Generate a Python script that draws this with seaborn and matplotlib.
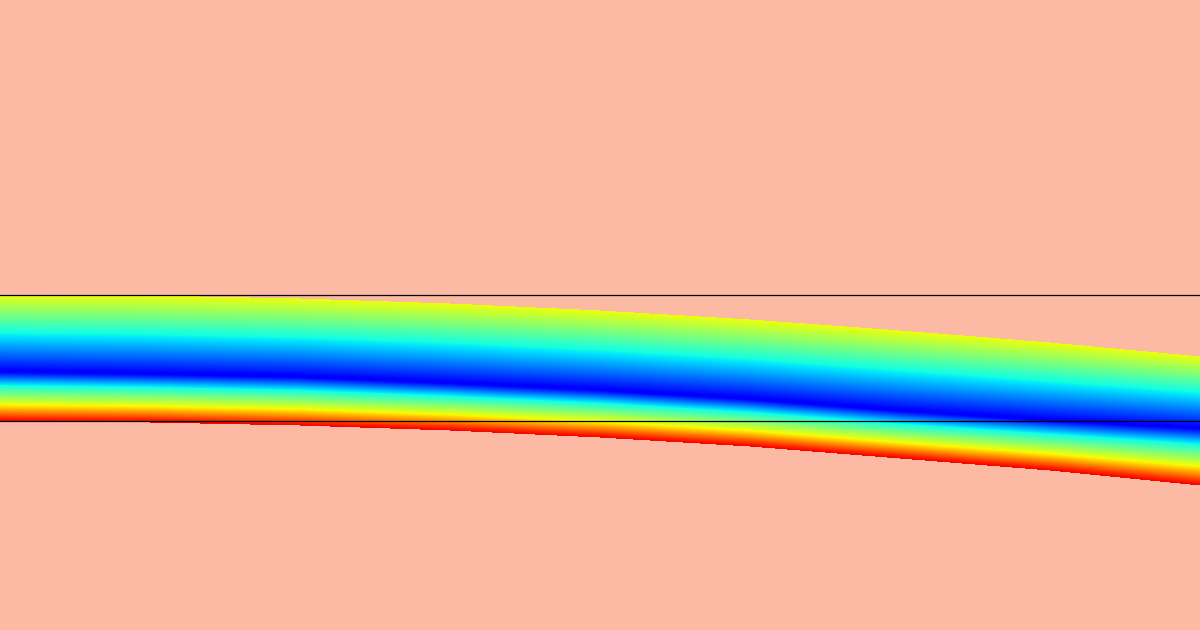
"""
Deformed beam field plot: jet-coloured band over the undeformed outline
"""

import numpy as np
import matplotlib
matplotlib.use('Agg')  # Non-interactive backend
import matplotlib.pyplot as plt
import seaborn as sns

# Sample columns along the beam (pixel units, y measured from the top)
x_cols = [0, 150, 300, 450, 600, 750, 900, 1050, 1200]
top_edge = [295, 296, 299, 304, 311, 320, 331, 343, 357]
bottom_edge = [421, 422, 425, 430, 437, 446, 458, 470, 485]
blue_depth = [0.61, 0.62, 0.62, 0.63, 0.63, 0.63, 0.63, 0.61, 0.56]

# Field value through the depth (anchors relative to the blue minimum)
anchor_above = [0.0, 0.48, 1.0]          # fraction of blue depth
anchor_below = [0.29, 0.66, 0.95, 1.0]   # fraction of the part below blue
anchor_values = [0.63, 0.375, 0.11, 0.375, 0.63, 0.87, 0.90]

# Undeformed outline
outline_top = 295
outline_bottom = 421

bg_color = '#fcbaa4'

sns.set_theme(style='white')

n_rows = len(anchor_values)
n_cols = len(x_cols)
X = np.zeros((n_rows, n_cols))
Y = np.zeros((n_rows, n_cols))
V = np.zeros((n_rows, n_cols))
for j in range(n_cols):
    b = blue_depth[j]
    depths = [a * b for a in anchor_above] + [b + a * (1 - b) for a in anchor_below]
    for i, s in enumerate(depths):
        X[i, j] = x_cols[j]
        Y[i, j] = top_edge[j] + s * (bottom_edge[j] - top_edge[j])
        V[i, j] = anchor_values[i]

fig = plt.figure(figsize=(12, 6.3), dpi=100, facecolor=bg_color)
ax = fig.add_axes([0, 0, 1, 1])
ax.set_facecolor(bg_color)

ax.contourf(X, Y, V, levels=np.linspace(0, 1, 257), cmap='jet',
            vmin=0, vmax=1, antialiased=False)

ax.axhline(outline_top, color='black', lw=0.9)
ax.axhline(outline_bottom, color='black', lw=0.9)

ax.set_xlim(0, 1200)
ax.set_ylim(630, 0)
ax.set_axis_off()

plt.savefig('out.png', dpi=100, facecolor=bg_color)
plt.close()
